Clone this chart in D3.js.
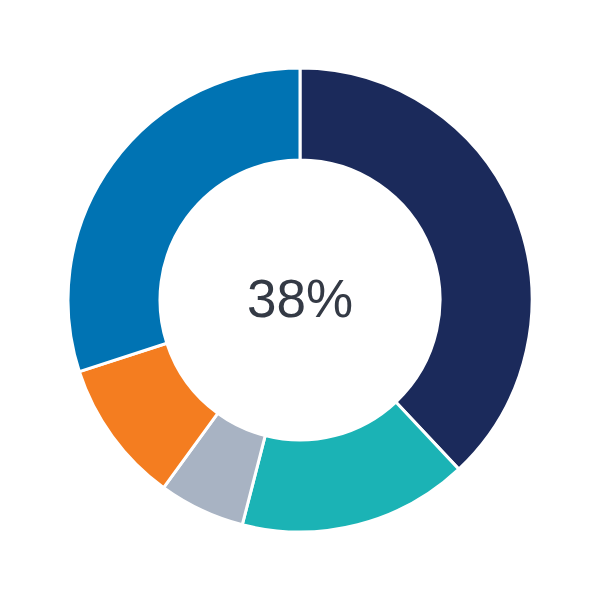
<!DOCTYPE html>
<html>
<head>
<meta charset="utf-8">
<script src="https://cdn.jsdelivr.net/npm/d3@7"></script>
<style>
  body { margin: 0; background: #fff; }
</style>
</head>
<body>
<svg id="chart" width="600" height="600"></svg>
<script>
const labels = ['A', 'B', 'C', 'D', 'E'];
const values = [38, 16, 6, 10, 30];
const colors = ['#1b2a5b', '#1bb3b5', '#a8b3c3', '#f47d20', '#0073b3'];
const centerLabel = '38%';

const WIDTH = 600, HEIGHT = 600;
const OUTER = 232, INNER = 140;

const svg = d3.select('#chart');
const g = svg.append('g')
    .attr('transform', `translate(${WIDTH / 2}, ${HEIGHT / 2})`);

const pie = d3.pie().sort(null).value(d => d.value);
const arc = d3.arc().innerRadius(INNER).outerRadius(OUTER);

const data = labels.map((l, i) => ({ label: l, value: values[i], color: colors[i] }));

g.selectAll('path')
    .data(pie(data))
    .join('path')
    .attr('d', arc)
    .attr('fill', d => d.data.color)
    .attr('stroke', '#fff')
    .attr('stroke-width', 3);

g.append('text')
    .attr('text-anchor', 'middle')
    .attr('y', 17)
    .attr('font-family', 'Liberation Sans, Arial, sans-serif')
    .attr('font-size', '53px')
    .attr('fill', '#343a45')
    .text(centerLabel);
</script>
</body>
</html>
